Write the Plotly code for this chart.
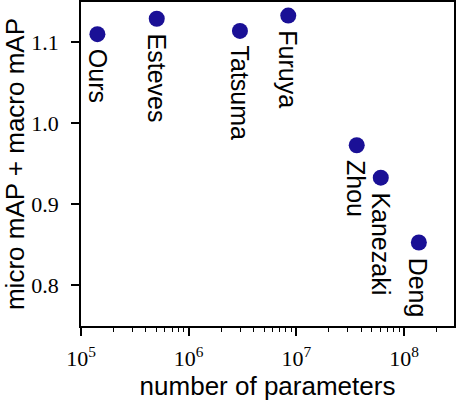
import math
import plotly.graph_objects as go

methods = ["Ours", "Esteves", "Tatsuma", "Furuya", "Zhou", "Kanezaki", "Deng"]
num_params = [1.42e5, 5.05e5, 2.99e6, 8.4e6, 3.63e7, 6.07e7, 1.37e8]
score = [1.110, 1.129, 1.114, 1.133, 0.973, 0.933, 0.853]

x_tickvals = [1e5, 1e6, 1e7, 1e8]
x_ticktext = ["10<sup>5</sup>", "10<sup>6</sup>", "10<sup>7</sup>", "10<sup>8</sup>"]
y_tickvals = [0.8, 0.9, 1.0, 1.1]
y_ticktext = ["0.8", "0.9", "1.0", "1.1"]

color = "rgb(26,16,150)"
sans = "Liberation Sans, Arial, sans-serif"
serif = "Liberation Serif, DejaVu Serif, serif"

fig = go.Figure()
fig.add_trace(go.Scatter(
    x=num_params, y=score, mode="markers",
    marker=dict(size=16, color=color, line=dict(width=0)),
    showlegend=False, hoverinfo="skip",
))

for m, xv, yv in zip(methods, num_params, score):
    fig.add_annotation(
        x=math.log10(xv), y=yv, xref="x", yref="y", text=m, showarrow=False,
        textangle=90, xanchor="center", yanchor="top", yshift=-13,
        font=dict(family=sans, size=25, color="black"),
    )

fig.update_layout(
    width=460, height=405,
    margin=dict(l=81, r=6, t=2, b=79),
    plot_bgcolor="white", paper_bgcolor="white",
)
fig.update_xaxes(
    type="log", range=[5, 8.463], automargin=False,
    tickvals=x_tickvals, ticktext=x_ticktext,
    ticks="outside", ticklen=8, tickwidth=1.5, tickcolor="black",
    ticklabelstandoff=4,
    showline=True, linecolor="black", linewidth=1.5, mirror=True,
    showgrid=False, zeroline=False,
    tickfont=dict(family=serif, size=22, color="black"),
    minor=dict(dtick="D1", ticks="outside", ticklen=4, tickwidth=1.2, tickcolor="black", showgrid=False),
    title=dict(text="number of parameters", standoff=5,
               font=dict(family=sans, size=26, color="black")),
)
fig.update_yaxes(
    range=[0.75, 1.1497], automargin=False,
    tickvals=y_tickvals, ticktext=y_ticktext,
    ticks="outside", ticklen=8, tickwidth=1.5, tickcolor="black",
    ticklabelstandoff=8,
    showline=True, linecolor="black", linewidth=1.5, mirror=True,
    showgrid=False, zeroline=False,
    tickfont=dict(family=serif, size=22, color="black"),
    title=dict(text="micro mAP + macro mAP", standoff=4,
               font=dict(family=sans, size=26, color="black")),
)

fig.write_html("out.html", config={"displayModeBar": False},
               post_script="document.body.style.margin='0';")
